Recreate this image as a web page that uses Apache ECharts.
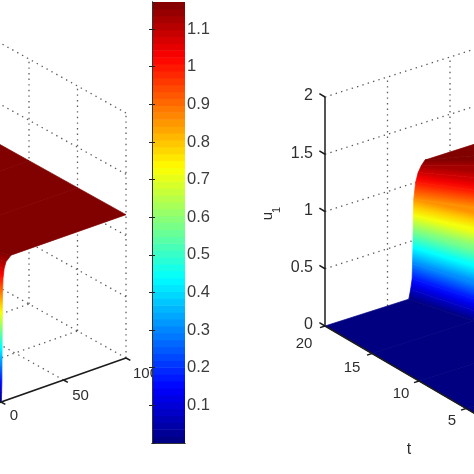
<!DOCTYPE html>
<html>
<head>
<meta charset="utf-8">
<style>html,body{margin:0;padding:0;background:#fff}#c{width:474px;height:474px;filter:blur(0.45px)}</style>
<script src="https://cdn.jsdelivr.net/npm/echarts@6/dist/echarts.min.js"></script>
</head>
<body>
<div id="c"></div>
<script>
// ---- data ----
const tRows = [20, 15, 10, 5, 0];
const surfaceLevels = [0, 0, 0.08, 0.17, 0.3, 0.44, 0.58, 0.72, 0.86, 1.0, 1.08, 1.13, 1.17, 1.17];
// x position of each level along each time row: right panel (u1)
const rightT20 = [-100, -33, -31.5, -30.3, -30, -29.7, -29.5, -29.3, -29, -27.5, -25.5, -23, -20, 100];
const rightT15 = [-100, -19, -17, -15.5, -13, -10.8, -8, -3.8, 7.6, 10, 20, 47, 90, 100];
const rightT10 = [-100, -5, -3, -1, 3, 8, 13, 20, 45, 48, 60, 90, 98, 100];
const rightT5 = [-100, 9, 11, 14, 19, 27, 34, 44, 80, 84, 90, 95, 98, 100];
const rightT0 = [-100, 23, 25, 29, 35, 46, 55, 68, 86, 90, 93, 96, 98, 100];
// left panel
const leftT20 = [-100, -80, -79.5, -79.3, -79.2, -79.1, -79, -78.9, -78.8, -78.4, -77.5, -76, -72, 100];
const leftT15 = [-100, -60, -59.5, -59.3, -59.2, -59.1, -59, -58.9, -58.8, -58.4, -57.5, -56, -52, 100];
const leftT10 = [-100, -40, -39.5, -39.3, -39.2, -39.1, -39, -38.9, -38.8, -38.4, -37.5, -36, -32, 100];
const leftT5 = [-100, -20, -19.5, -19.3, -19.2, -19.1, -19, -18.9, -18.8, -18.4, -17.5, -16, -12, 100];
const leftT0 = [-100, 0.3, 0.5, 0.7, 0.8, 0.9, 1, 1.1, 1.2, 1.6, 2.5, 4, 8, 100];

const zTicks = [0, 0.5, 1, 1.5, 2];
const xTicks = [-50, 0, 50, 100];
const tTicks = [5, 10, 15, 20];
const leftXLabels = ['0', '50', '100'];
const rightZLabels = ['0', '0.5', '1', '1.5', '2'];
const rightTLabels = ['5', '10', '15', '20'];
const colorbarMax = 1.172;
const colorbarLevels = 64;

// ---- layout (pixels) ----
const views = [
  { ox: 126, oy: 358, x0: 100, sxx: 1.25, syx: -0.44, sxt: -9.7, syt: -5.4, zs: 122.5, t0: 0 },
  { ox: 325, oy: 326, x0: -100, sxx: 1.25, syx: -0.4, sxt: -9.4, syt: -5.5, zs: 114.5, t0: 20 }
];
const project = (v, x, t, z) => {
  const p = views[v];
  return [p.ox + p.sxx * (x - p.x0) + p.sxt * (t - p.t0), p.oy + p.syx * (x - p.x0) + p.syt * (t - p.t0) - p.zs * z];
};
const surfaces = [[leftT20, leftT15, leftT10, leftT5, leftT0], [rightT20, rightT15, rightT10, rightT5, rightT0]];

const clamp01 = a => Math.max(0, Math.min(1, a));
function jet(u) {
  const v = clamp01(u / colorbarMax);
  const r = clamp01(Math.min(4 * v - 1.5, -4 * v + 4.5));
  const g = clamp01(Math.min(4 * v - 0.5, -4 * v + 3.5));
  const b = clamp01(Math.min(4 * v + 0.5, -4 * v + 2.5));
  return 'rgb(' + Math.round(r * 255) + ',' + Math.round(g * 255) + ',' + Math.round(b * 255) + ')';
}

// ---- segments ----
const dotted = [], solid = [];
const seg = (arr, v, a, b) => arr.push([v, a[0], a[1], a[2], b[0], b[1], b[2]]);
// left walls and floor
zTicks.slice(1).forEach(z => seg(dotted, 0, [100, 0, z], [100, 20, z]));
[0, 5, 10, 15, 20].forEach(t => seg(dotted, 0, [100, t, 0], [100, t, 2]));
tTicks.forEach(t => seg(dotted, 0, [-100, t, 0], [100, t, 0]));
xTicks.forEach(x => seg(dotted, 0, [x, 0, 0], [x, 20, 0]));
// right wall
zTicks.slice(1).forEach(z => seg(dotted, 1, [-100, 20, z], [100, 20, z]));
xTicks.forEach(x => seg(dotted, 1, [x, 20, 0], [x, 20, 2]));
// axes
seg(solid, 0, [-100, 0, 0], [100, 0, 0]);
xTicks.forEach(x => seg(solid, 0, [x, 0, 0], [x, -0.45, 0]));
seg(solid, 1, [-100, 20, 0], [-100, 20, 2]);
zTicks.forEach(z => seg(solid, 1, [-100, 20, z], [-100, 20.6, z]));
seg(solid, 1, [-100, 20, 0], [-100, 0, 0]);
tTicks.forEach(t => seg(solid, 1, [-100, t, 0], [-104, t, 0]));

// ---- surface cells, painted far to near ----
const cells = [];
[0, 1].forEach(v => {
  for (let r = 0; r < tRows.length - 1; r++) {
    for (let j = surfaceLevels.length - 2; j >= 0; j--) cells.push([v, r, j]);
  }
});

function renderSeg(style) {
  return function (params, api) {
    const v = api.value(0);
    const a = api.coord(project(v, api.value(1), api.value(2), api.value(3)));
    const b = api.coord(project(v, api.value(4), api.value(5), api.value(6)));
    return { type: 'line', silent: true, shape: { x1: a[0], y1: a[1], x2: b[0], y2: b[1] }, style: style };
  };
}
function renderCell(params, api) {
  const v = api.value(0), r = api.value(1), j = api.value(2);
  const rows = surfaces[v], t0 = tRows[r], t1 = tRows[r + 1];
  const u0 = surfaceLevels[j], u1 = surfaceLevels[j + 1];
  const P = (row, t, k) => api.coord(project(v, rows[row][k], t, surfaceLevels[k]));
  const a = P(r, t0, j), b = P(r + 1, t1, j), c = P(r + 1, t1, j + 1), d = P(r, t0, j + 1);
  let fill = jet(u0);
  if (u0 !== u1) {
    const ex = b[0] - a[0], ey = b[1] - a[1], len = Math.hypot(ex, ey) || 1;
    const nx = -ey / len, ny = ex / len;
    const dist = (d[0] - a[0]) * nx + (d[1] - a[1]) * ny;
    fill = new echarts.graphic.LinearGradient(a[0], a[1], a[0] + nx * dist, a[1] + ny * dist, [
      { offset: 0, color: jet(u0) },
      { offset: 0.5, color: jet((u0 + u1) / 2) },
      { offset: 1, color: jet(u1) }
    ], true);
  }
  return { type: 'polygon', silent: true, shape: { points: [a, b, c, d] }, style: { fill: fill, stroke: fill, lineWidth: 0.7 } };
}

// ---- tick labels anchored on the projected axes ----
const labels = [];
const addLabel = (text, anchor, dx, dy, opts) => labels.push(Object.assign({ text, anchor, dx, dy }, opts || {}));
const xOffsets = [[13, 14], [17, 16], [19.5, 16]];
leftXLabels.forEach((s, i) => addLabel(s, project(0, +s, 0, 0), xOffsets[i][0], xOffsets[i][1]));
rightZLabels.forEach(s => addLabel(s, project(1, -100, 20, +s), -12, -1, { align: 'right', size: 16 }));
const tOffsets = [[-14, 12.5], [-18, 13], [-20, 14.5], [-21, 18]];
rightTLabels.forEach((s, i) => addLabel(s, project(1, -100, +s, 0), tOffsets[i][0], tOffsets[i][1]));
addLabel('t', [409, 450], 0, 0, { size: 16 });
addLabel('u', [268, 216], 0, 0, { size: 15, rotate: Math.PI / 2 });
addLabel('1', [276.5, 210], 0, 0, { size: 11, rotate: Math.PI / 2 });

function renderLabel(params, api) {
  const l = labels[api.value(0)];
  const c = api.coord([l.anchor[0] + l.dx, l.anchor[1] + l.dy]);
  return {
    type: 'text', silent: true, x: c[0], y: c[1], rotation: l.rotate || 0,
    style: { text: l.text, fill: '#2e2e2e', fontFamily: '"Liberation Sans", Arial, sans-serif', fontSize: l.size || 15, align: l.align || 'center', verticalAlign: 'middle' }
  };
}

// ---- colour bar cells ----
const barCells = [];
for (let i = 0; i < colorbarLevels; i++) barCells.push([i * colorbarMax / colorbarLevels, (i + 1) * colorbarMax / colorbarLevels]);
function renderBar(params, api) {
  const a = api.coord([0, api.value(0)]), b = api.coord([1, api.value(1)]);
  return {
    type: 'rect', silent: true, shape: { x: a[0], y: b[1], width: b[0] - a[0], height: a[1] - b[1] + 0.6 },
    style: { fill: jet((api.value(0) + api.value(1)) / 2) }
  };
}

const barAxisLine = { show: true, lineStyle: { color: '#333', width: 1 } };
const chart = echarts.init(document.getElementById('c'), null, { renderer: 'canvas' });
chart.setOption({
  animation: false,
  backgroundColor: '#fff',
  grid: [
    { left: 0, top: 0, width: 474, height: 474 },
    { left: 152, top: 2, width: 33, height: 441, z: 6 }
  ],
  xAxis: [
    { gridIndex: 0, show: false, type: 'value', min: 0, max: 474 },
    { gridIndex: 1, type: 'value', min: 0, max: 1, position: 'bottom', z: 8, axisLine: barAxisLine, axisTick: { show: false }, axisLabel: { show: false }, splitLine: { show: false } },
    { gridIndex: 1, type: 'value', min: 0, max: 1, position: 'top', z: 8, axisLine: barAxisLine, axisTick: { show: false }, axisLabel: { show: false }, splitLine: { show: false } }
  ],
  yAxis: [
    { gridIndex: 0, show: false, type: 'value', min: 0, max: 474, inverse: true },
    { gridIndex: 1, type: 'value', min: 0, max: colorbarMax, interval: 0.1, position: 'right', z: 8, axisLine: barAxisLine,
      axisTick: { inside: true, length: 3, lineStyle: { color: '#222' } },
      axisLabel: { margin: 2, fontSize: 16.5, color: '#3c3c3c', fontFamily: '"Liberation Sans", Arial, sans-serif', showMinLabel: false, showMaxLabel: false }, splitLine: { show: false } },
    { gridIndex: 1, type: 'value', min: 0, max: colorbarMax, interval: 0.1, position: 'left', z: 8, axisLine: barAxisLine,
      axisTick: { inside: true, length: 3, lineStyle: { color: '#222' } }, axisLabel: { show: false }, splitLine: { show: false } }
  ],
  series: [
    { type: 'custom', name: 'grid', coordinateSystem: 'cartesian2d', xAxisIndex: 0, yAxisIndex: 0, z: 1, clip: false, data: dotted,
      renderItem: renderSeg({ stroke: '#5c5c5c', lineWidth: 1.3, lineDash: [1.4, 4.2] }) },
    { type: 'custom', name: 'surface', coordinateSystem: 'cartesian2d', xAxisIndex: 0, yAxisIndex: 0, z: 2, clip: false, data: cells, renderItem: renderCell },
    { type: 'custom', name: 'axes', coordinateSystem: 'cartesian2d', xAxisIndex: 0, yAxisIndex: 0, z: 3, clip: false, data: solid,
      renderItem: renderSeg({ stroke: '#1c1c1c', lineWidth: 1.5 }) },
    { type: 'custom', name: 'labels', coordinateSystem: 'cartesian2d', xAxisIndex: 0, yAxisIndex: 0, z: 4, clip: false, data: labels.map((l, i) => [i]), renderItem: renderLabel },
    { type: 'custom', name: 'colorbar', coordinateSystem: 'cartesian2d', xAxisIndex: 1, yAxisIndex: 1, z: 5, clip: false, data: barCells, renderItem: renderBar }
  ]
});
</script>
</body>
</html>
